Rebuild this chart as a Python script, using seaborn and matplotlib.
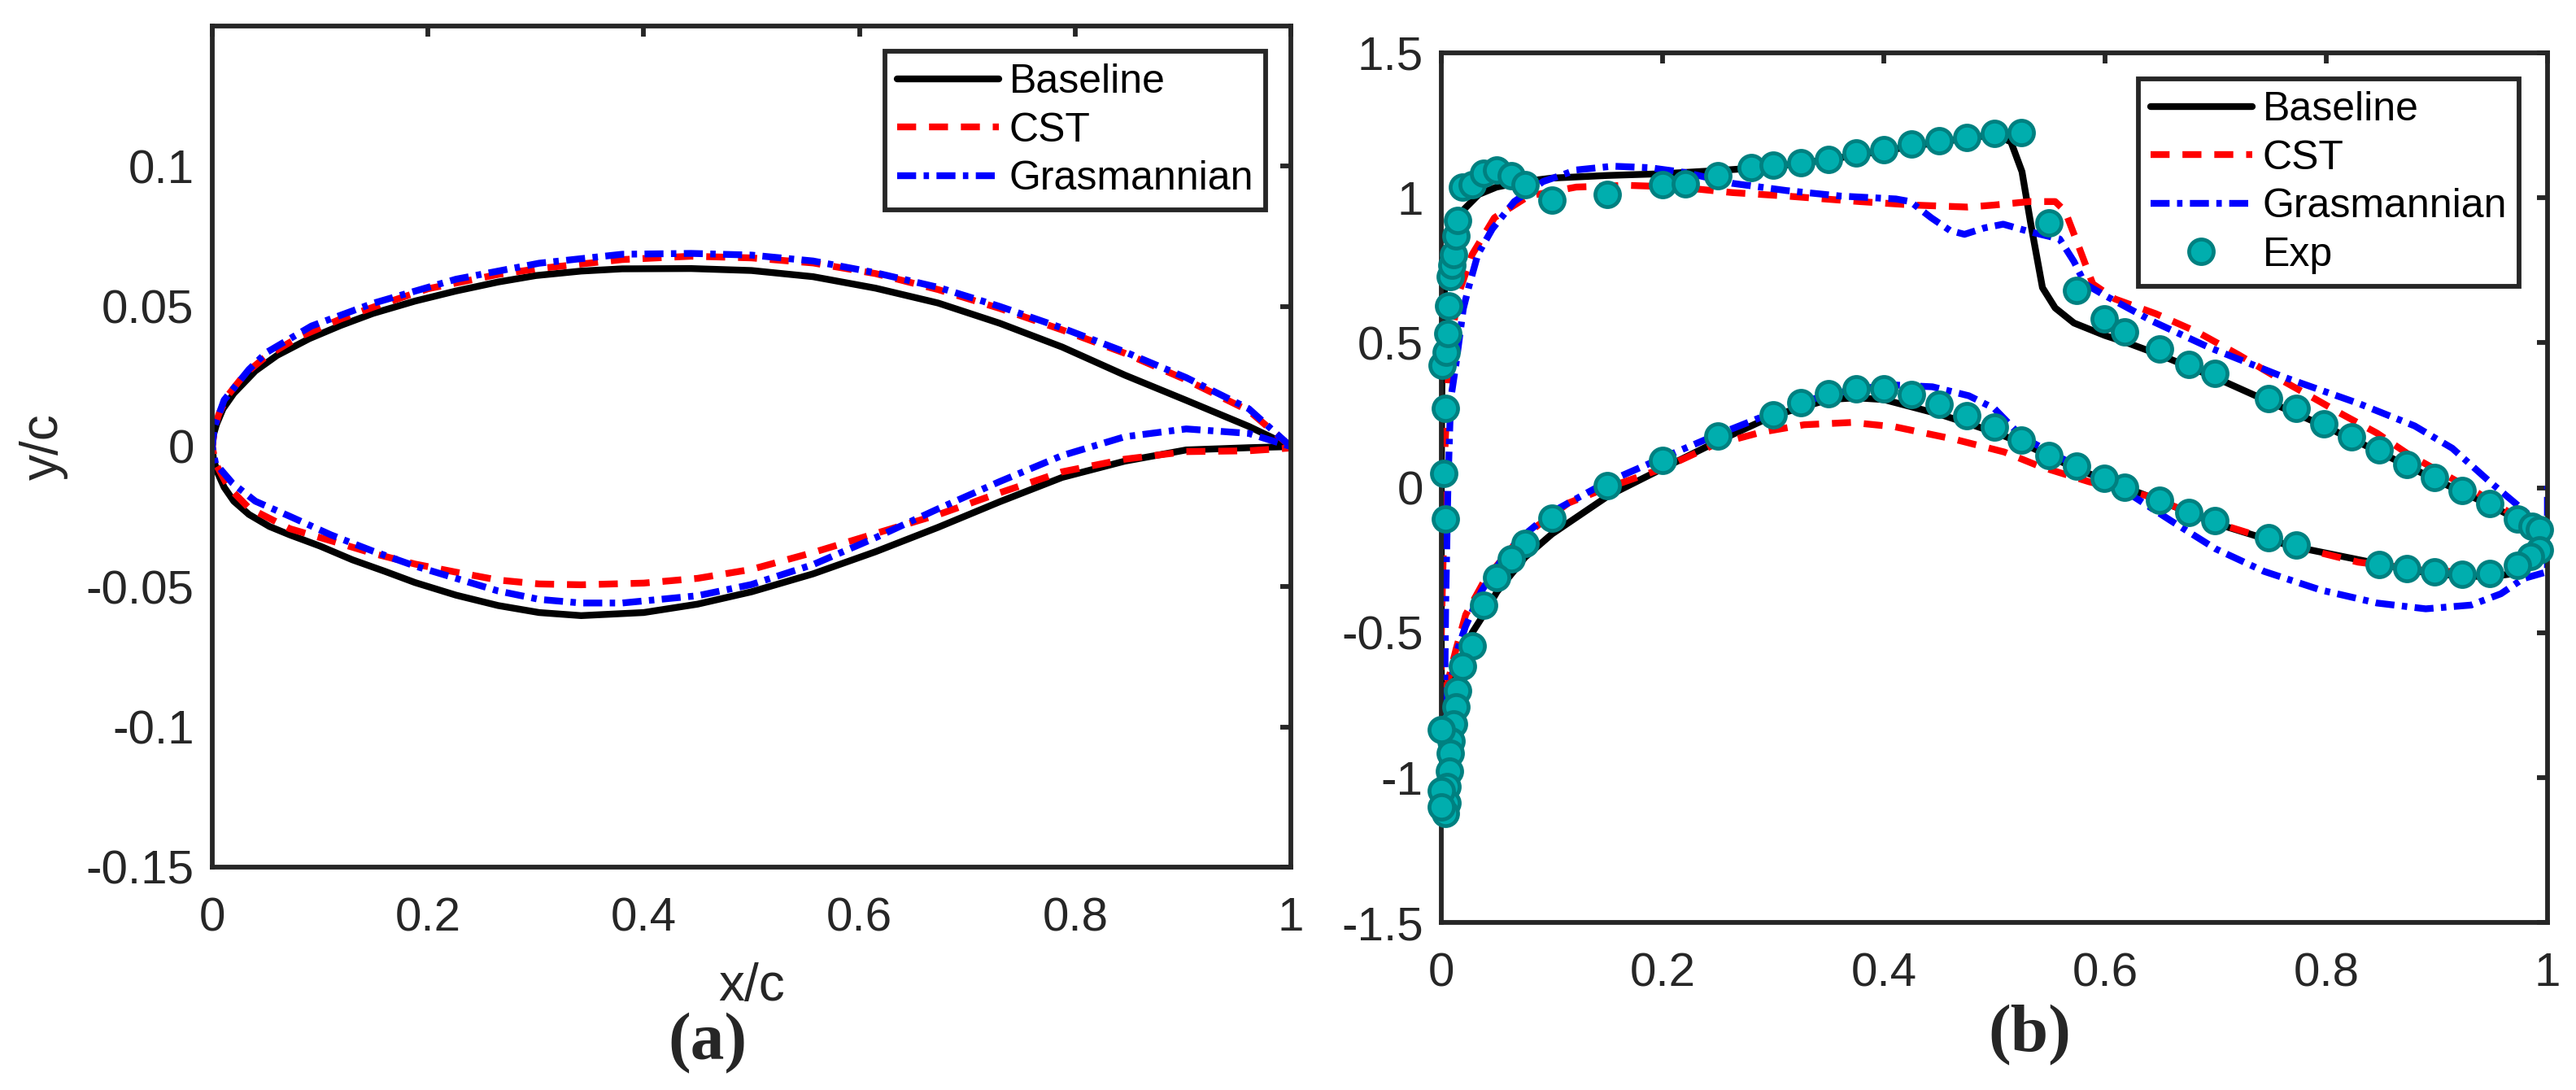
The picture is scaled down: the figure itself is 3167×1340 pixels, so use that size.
import matplotlib
matplotlib.use("Agg")
import matplotlib.pyplot as plt
from matplotlib.lines import Line2D
import seaborn as sns

# ---------------- (a) airfoil geometry ----------------
# upper surface listed trailing edge -> leading edge, lower surface leading edge -> trailing edge
geo_base_up_x = [1.0, 0.961, 0.903, 0.846, 0.788, 0.73, 0.673, 0.615, 0.557, 0.50, 0.444, 0.38, 0.342,
                 0.30, 0.265, 0.226, 0.188, 0.149, 0.119, 0.09, 0.06, 0.04, 0.02, 0.01, 0.004, 0.001, 0.0]
geo_base_up_y = [0.0, 0.0072, 0.0165, 0.0255, 0.0355, 0.0440, 0.0512, 0.0565, 0.0606, 0.0628, 0.0635, 0.0634,
                 0.0626, 0.0610, 0.0587, 0.0555, 0.0519, 0.0475, 0.0432, 0.0385, 0.0325, 0.0270, 0.0190,
                 0.0135, 0.0080, 0.0040, 0.0]
geo_base_lo_x = [0.0, 0.001, 0.004, 0.011, 0.02, 0.034, 0.053, 0.072, 0.10, 0.130, 0.160, 0.188, 0.226,
                 0.265, 0.303, 0.342, 0.40, 0.45, 0.50, 0.557, 0.615, 0.673, 0.73, 0.788, 0.846, 0.903,
                 0.961, 1.0]
geo_base_lo_y = [0.0, -0.0040, -0.0085, -0.0145, -0.0195, -0.0242, -0.0285, -0.0315, -0.0355, -0.0404,
                 -0.0445, -0.0485, -0.0530, -0.0567, -0.0592, -0.0603, -0.0592, -0.0562, -0.0518, -0.0454,
                 -0.0375, -0.0288, -0.0197, -0.0110, -0.0052, -0.0012, -0.0004, 0.0]

geo_cst_up_x = [1.0, 0.961, 0.903, 0.846, 0.788, 0.73, 0.673, 0.615, 0.557, 0.50, 0.444, 0.38, 0.303,
                0.265, 0.20, 0.149, 0.119, 0.08, 0.05, 0.03, 0.015, 0.006, 0.002, 0.0]
geo_cst_up_y = [0.0, 0.0128, 0.0238, 0.0333, 0.0416, 0.0493, 0.0560, 0.0617, 0.0655, 0.0673, 0.0679,
                0.0667, 0.0635, 0.0614, 0.0563, 0.0497, 0.0455, 0.0390, 0.0322, 0.0258, 0.0185, 0.0115,
                0.0062, 0.0]
geo_cst_lo_x = [0.0, 0.003, 0.015, 0.034, 0.072, 0.111, 0.149, 0.188, 0.226, 0.265, 0.303, 0.342, 0.40,
                0.45, 0.50, 0.557, 0.615, 0.673, 0.73, 0.788, 0.846, 0.903, 0.961, 1.0]
geo_cst_lo_y = [0.0, -0.0060, -0.0145, -0.0219, -0.0293, -0.0337, -0.0381, -0.0419, -0.0448, -0.0476,
                -0.0490, -0.0493, -0.0487, -0.0470, -0.0438, -0.0378, -0.0310, -0.0243, -0.0165, -0.0090,
                -0.0045, -0.0018, -0.0015, -0.0005]

geo_gr_up_x = [1.0, 0.961, 0.903, 0.846, 0.788, 0.73, 0.673, 0.615, 0.557, 0.50, 0.444, 0.38, 0.303,
               0.226, 0.149, 0.092, 0.05, 0.034, 0.011, 0.002, 0.0]
geo_gr_up_y = [0.0, 0.0135, 0.0246, 0.0338, 0.0423, 0.0500, 0.0568, 0.0620, 0.0662, 0.0683, 0.0689,
               0.0686, 0.0654, 0.0597, 0.0511, 0.0430, 0.0335, 0.0275, 0.0166, 0.0070, 0.0]
geo_gr_lo_x = [0.0, 0.003, 0.0186, 0.04, 0.072, 0.11, 0.149, 0.188, 0.226, 0.265, 0.303, 0.342, 0.38,
               0.45, 0.50, 0.557, 0.615, 0.673, 0.73, 0.788, 0.846, 0.903, 0.961, 1.0]
geo_gr_lo_y = [0.0, -0.0060, -0.0130, -0.0195, -0.0249, -0.0315, -0.0373, -0.0426, -0.0470, -0.0515,
               -0.0545, -0.0558, -0.0558, -0.0532, -0.0492, -0.0421, -0.0325, -0.0222, -0.0125, -0.0032,
               0.0035, 0.0063, 0.0047, 0.0]

# ---------------- (b) pressure distribution ----------------
cp_base_up_x = [1.0, 0.994, 0.973, 0.948, 0.898, 0.848, 0.798, 0.748, 0.699, 0.649, 0.62, 0.60, 0.572,
                0.555, 0.5435, 0.533, 0.525, 0.515, 0.50, 0.45, 0.40, 0.35, 0.30, 0.25, 0.20, 0.15, 0.10,
                0.075, 0.05, 0.034, 0.021, 0.0135, 0.008, 0.0035, 0.001, 0.0004, 0.0, 0.0]
cp_base_up = [-0.17, -0.146, -0.11, -0.06, 0.029, 0.123, 0.213, 0.297, 0.381, 0.459, 0.50, 0.525, 0.568,
              0.62, 0.69, 0.909, 1.09, 1.193, 1.218, 1.192, 1.162, 1.132, 1.107, 1.094, 1.083, 1.077,
              1.068, 1.056, 1.037, 1.012, 0.962, 0.906, 0.84, 0.743, 0.50, 0.30, 0.0, -0.78]
cp_base_lo_x = [0.003, 0.008, 0.0185, 0.028, 0.0383, 0.0504, 0.0758, 0.10, 0.151, 0.20, 0.25, 0.30, 0.35,
                0.375, 0.40, 0.425, 0.45, 0.475, 0.50, 0.524, 0.574, 0.649, 0.699, 0.748, 0.773, 0.848,
                0.898, 0.948, 0.972, 0.99, 1.0]
cp_base_lo = [-0.76, -0.70, -0.584, -0.50, -0.4385, -0.359, -0.24, -0.16, -0.028, 0.066, 0.16, 0.248,
              0.304, 0.31, 0.304, 0.279, 0.254, 0.223, 0.191, 0.156, 0.065, -0.044, -0.122, -0.18, -0.205,
              -0.263, -0.299, -0.308, -0.295, -0.25, -0.198]

cp_cst_up_x = [1.0, 0.994, 0.97, 0.937, 0.907, 0.876, 0.846, 0.815, 0.785, 0.755, 0.721, 0.684, 0.646,
               0.609, 0.589, 0.575, 0.564, 0.555, 0.532, 0.50, 0.476, 0.427, 0.378, 0.312, 0.263, 0.214,
               0.168, 0.122, 0.079, 0.048, 0.028, 0.0166, 0.008, 0.0035, 0.002, 0.0, 0.0]
cp_cst_up = [-0.17, -0.148, -0.096, -0.018, 0.046, 0.111, 0.188, 0.252, 0.317, 0.381, 0.458, 0.536, 0.60,
             0.651, 0.703, 0.845, 0.954, 0.987, 0.987, 0.975, 0.968, 0.975, 0.987, 1.006, 1.018, 1.037,
             1.043, 1.037, 1.006, 0.931, 0.805, 0.68, 0.50, 0.154, -0.2, -0.5, -0.796]
cp_cst_lo_x = [0.0047, 0.0133, 0.0221, 0.0392, 0.066, 0.086, 0.115, 0.148, 0.20, 0.246, 0.289, 0.328,
               0.371, 0.41, 0.465, 0.509, 0.542, 0.586, 0.641, 0.695, 0.761, 0.829, 0.896, 0.947, 0.974, 1.0]
cp_cst_lo = [-0.69, -0.558, -0.438, -0.319, -0.197, -0.134, -0.053, -0.003, 0.066, 0.147, 0.191, 0.217,
             0.225, 0.21, 0.166, 0.123, 0.072, 0.02, -0.031, -0.115, -0.193, -0.257, -0.289, -0.289, -0.27,
             -0.21]

cp_gr_up_x = [1.0, 0.992, 0.972, 0.948, 0.914, 0.88, 0.829, 0.762, 0.694, 0.643, 0.599, 0.582, 0.572,
              0.559, 0.532, 0.508, 0.491, 0.473, 0.46, 0.443, 0.424, 0.411, 0.361, 0.312, 0.263, 0.221,
              0.188, 0.155, 0.122, 0.092, 0.066, 0.0462, 0.0331, 0.0249, 0.0199, 0.0134, 0.0085, 0.006,
              0.004, 0.003, 0.002]
cp_gr_up = [-0.15, -0.122, -0.057, 0.02, 0.136, 0.213, 0.291, 0.381, 0.484, 0.574, 0.665, 0.703, 0.78,
            0.858, 0.883, 0.909, 0.896, 0.874, 0.887, 0.931, 0.987, 0.996, 1.006, 1.025, 1.05, 1.087, 1.104,
            1.109, 1.096, 1.056, 0.987, 0.893, 0.805, 0.693, 0.617, 0.429, 0.304, 0.0, -0.4, -0.75, -0.80]
cp_gr_lo_x = [0.0012, 0.0047, 0.0147, 0.022, 0.036, 0.059, 0.076, 0.10, 0.148, 0.197, 0.247, 0.28, 0.313,
              0.346, 0.378, 0.411, 0.444, 0.477, 0.50, 0.525, 0.559, 0.592, 0.626, 0.66, 0.70, 0.744, 0.795,
              0.846, 0.89, 0.931, 0.958, 0.978, 1.0, 1.0]
cp_gr_lo = [-0.80, -0.743, -0.558, -0.478, -0.359, -0.222, -0.16, -0.084, 0.016, 0.098, 0.179, 0.229,
            0.279, 0.317, 0.342, 0.354, 0.348, 0.317, 0.273, 0.175, 0.105, 0.04, -0.031, -0.115, -0.211,
            -0.289, -0.353, -0.398, -0.418, -0.405, -0.366, -0.314, -0.29, 0.006]

exp_x = [0.0025, 0.0035, 0.0009, 0.0045, 0.0058, 0.0068, 0.0078, 0.0094, 0.0111, 0.0134, 0.015, 0.0193,
         0.028, 0.038, 0.05, 0.063, 0.076, 0.10, 0.15, 0.20, 0.221, 0.25, 0.28, 0.30, 0.325, 0.35, 0.375,
         0.40, 0.425, 0.45, 0.475, 0.50, 0.524, 0.549, 0.574, 0.599, 0.618, 0.649, 0.676, 0.699, 0.748,
         0.773, 0.798, 0.823, 0.848, 0.873, 0.898, 0.923, 0.948, 0.973, 0.986, 0.993,
         0.993, 0.985, 0.973, 0.948, 0.923, 0.898, 0.873, 0.848, 0.773, 0.748, 0.699, 0.676, 0.649, 0.618,
         0.599, 0.574, 0.549, 0.524, 0.50, 0.475, 0.45, 0.425, 0.40, 0.375, 0.35, 0.325, 0.30, 0.25, 0.20,
         0.15, 0.10, 0.076, 0.063, 0.0504, 0.0383, 0.0279, 0.0192, 0.015, 0.0133, 0.0109, 0.0088, 0.0081,
         0.0071, 0.0055, 0.0055, 0.0037, 0.0, 0.0, 0.0, 0.0037]
exp_cp = [0.05, 0.275, 0.423, 0.467, 0.532, 0.627, 0.727, 0.768, 0.805, 0.868, 0.922, 1.037,
          1.046, 1.086, 1.096, 1.076, 1.046, 0.991, 1.012, 1.046, 1.049, 1.076, 1.104, 1.112, 1.12, 1.131,
          1.154, 1.165, 1.185, 1.197, 1.208, 1.221, 1.225, 0.914, 0.68, 0.581, 0.538, 0.478, 0.426, 0.394,
          0.306, 0.274, 0.22, 0.175, 0.13, 0.081, 0.035, -0.009, -0.055, -0.109, -0.134, -0.145,
          -0.216, -0.238, -0.269, -0.295, -0.299, -0.289, -0.28, -0.264, -0.199, -0.173, -0.115, -0.085,
          -0.044, 0.001, 0.031, 0.074, 0.112, 0.164, 0.21, 0.248, 0.289, 0.32, 0.342, 0.342, 0.323, 0.292,
          0.252, 0.177, 0.094, 0.006, -0.106, -0.193, -0.246, -0.31, -0.405, -0.547, -0.617, -0.701,
          -0.757, -0.816, -0.873, -0.915, -0.978, -1.032, -1.088, -1.125, -0.836, -1.045, -1.10, -0.108]

labels_a = ["Baseline", "CST", "Grasmannian"]
labels_b = ["Baseline", "CST", "Grasmannian", "Exp"]

# ---------------- style ----------------
sns.set_style("white")
plt.rcParams["font.family"] = ["Liberation Sans", "DejaVu Sans"]
DARK = "#262626"
LW = 6.0
TEAL, TEAL_EDGE = "#00AEAE", "#008080"
styles = [("black", None), ("red", (2.8, 1.9)), ("blue", (2.8, 1.1, 0.8, 1.1))]


def curve(ax, x, y, color, dashes):
    sns.lineplot(x=x, y=y, ax=ax, color=color, linewidth=LW, sort=False, estimator=None)
    line = ax.lines[-1]
    line.set_linewidth(LW)
    line.set_solid_capstyle("butt")
    if dashes is not None:
        line.set_dashes(dashes)
        line.set_dash_capstyle("butt")


def handle(color, dashes):
    h = Line2D([], [], color=color, linewidth=LW)
    if dashes is not None:
        h.set_dashes(dashes)
        h.set_dash_capstyle("butt")
    return h


def frame(ax):
    for s in ax.spines.values():
        s.set_visible(True)
        s.set_linewidth(4.2)
        s.set_color(DARK)
    ax.tick_params(direction="in", length=9.5, width=4.2, color=DARK, top=True, right=True,
                   labelsize=42, labelcolor=DARK)
    ax.tick_params(axis="x", pad=26)
    ax.tick_params(axis="y", pad=16)
    ax.set_xlim(0, 1)
    ax.set_xticks([0, 0.2, 0.4, 0.6, 0.8, 1.0], ["0", "0.2", "0.4", "0.6", "0.8", "1"])


def legend(ax, handles, labels, anchor):
    leg = ax.legend(handles, labels, loc="upper right", bbox_to_anchor=anchor, borderaxespad=0,
                    fontsize=36, frameon=True, fancybox=False, framealpha=1, edgecolor=DARK,
                    handlelength=2.5, handletextpad=0.25, labelspacing=0.27, borderpad=0.3)
    leg.get_frame().set_linewidth(4.2)
    for t in leg.get_texts():
        t.set_color("black")


fig = plt.figure(figsize=(31.67, 13.40), dpi=100)
ax1 = fig.add_axes([0.0824, 0.2045, 0.4187, 0.7716])
ax2 = fig.add_axes([0.5595, 0.1537, 0.4294, 0.7978])

# (a)
geo = [(geo_base_up_x + geo_base_lo_x, geo_base_up_y + geo_base_lo_y),
       (geo_cst_up_x + geo_cst_lo_x, geo_cst_up_y + geo_cst_lo_y),
       (geo_gr_up_x + geo_gr_lo_x, geo_gr_up_y + geo_gr_lo_y)]
for (gx, gy), (c, d) in zip(geo, styles):
    curve(ax1, gx, gy, c, d)
frame(ax1)
ax1.set_ylim(-0.15, 0.15)
ax1.set_yticks([-0.15, -0.1, -0.05, 0, 0.05, 0.1], ["-0.15", "-0.1", "-0.05", "0", "0.05", "0.1"])
ax1.set_xlabel("")
ax1.set_ylabel("y/c", fontsize=46, color=DARK)
ax1.yaxis.set_label_coords(-0.1335, 0.5)
legend(ax1, [handle(c, d) for c, d in styles], labels_a, (0.9766, 0.970))
fig.text(924 / 3167, 1 - 1230 / 1340, "x/c", fontsize=46, color=DARK, ha="center", va="baseline")

# (b)
cps = [(cp_base_up_x + cp_base_lo_x, cp_base_up + cp_base_lo),
       (cp_cst_up_x + cp_cst_lo_x, cp_cst_up + cp_cst_lo),
       (cp_gr_up_x + cp_gr_lo_x, cp_gr_up + cp_gr_lo)]
for (cx, cy), (c, d) in zip(cps, styles):
    curve(ax2, cx, cy, c, d)
sns.scatterplot(x=exp_x, y=exp_cp, ax=ax2, s=470, color=TEAL, edgecolor=TEAL_EDGE, linewidth=3.4,
                zorder=5, clip_on=False)
frame(ax2)
ax2.set_ylim(-1.5, 1.5)
ax2.set_yticks([-1.5, -1, -0.5, 0, 0.5, 1, 1.5], ["-1.5", "-1", "-0.5", "0", "0.5", "1", "1.5"])
ax2.set_xlabel("")
ax2.set_ylabel("")
exp_h = Line2D([], [], ls="none", marker="o", markersize=21.7, markerfacecolor=TEAL,
               markeredgecolor=TEAL_EDGE, markeredgewidth=3.4)
legend(ax2, [handle(c, d) for c, d in styles] + [exp_h], labels_b, (0.9743, 0.970))

fig.text(870 / 3167, 1 - 1302 / 1340, "(a)", fontsize=60, fontweight="bold",
         family=["Liberation Serif", "DejaVu Serif"], ha="center", va="baseline")
fig.text(2495 / 3167, 1 - 1292 / 1340, "(b)", fontsize=60, fontweight="bold",
         family=["Liberation Serif", "DejaVu Serif"], ha="center", va="baseline")

fig.savefig("out.png", dpi=100, facecolor="white")
